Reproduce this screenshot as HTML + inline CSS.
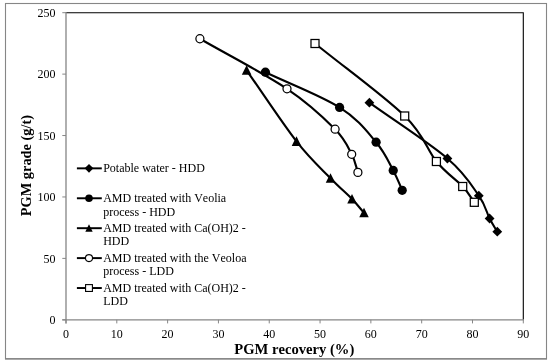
<!DOCTYPE html>
<html><head><meta charset="utf-8"><title>PGM grade vs recovery</title>
<style>html,body{margin:0;padding:0;background:#fff}body{width:550px;height:363px;overflow:hidden}text{font-kerning:none}</style></head>
<body>
<svg width="550" height="363" viewBox="0 0 550 363" style="display:block">
<rect x="0" y="0" width="550" height="363" fill="#fff"/>
<rect x="5.5" y="3.5" width="541" height="355.3" fill="none" stroke="#868686" stroke-width="1.1"/>
<path d="M5 358.9H547" fill="none" stroke="#808080" stroke-width="1.4"/>
<path d="M66.00 12.70H523.30V319.80" fill="none" stroke="#000" stroke-width="1.1"/>
<g stroke="#868686" stroke-width="1.3" fill="none">
<path d="M66.00 12.10V323.40 M62.30 319.80H523.90"/>
</g><g stroke="#868686" stroke-width="1" fill="none">
<path d="M66.00 319.80V323.40M116.81 319.80V323.40M167.62 319.80V323.40M218.43 319.80V323.40M269.24 319.80V323.40M320.06 319.80V323.40M370.87 319.80V323.40M421.68 319.80V323.40M472.49 319.80V323.40M523.30 319.80V323.40M62.30 319.80H66.00M62.30 258.38H66.00M62.30 196.96H66.00M62.30 135.54H66.00M62.30 74.12H66.00M62.30 12.70H66.00"/>
</g>
<g font-family="'Liberation Serif', serif" font-size="12px" fill="#000">
<text x="66.00" y="338.3" text-anchor="middle">0</text>
<text x="116.81" y="338.3" text-anchor="middle">10</text>
<text x="167.62" y="338.3" text-anchor="middle">20</text>
<text x="218.43" y="338.3" text-anchor="middle">30</text>
<text x="269.24" y="338.3" text-anchor="middle">40</text>
<text x="320.06" y="338.3" text-anchor="middle">50</text>
<text x="370.87" y="338.3" text-anchor="middle">60</text>
<text x="421.68" y="338.3" text-anchor="middle">70</text>
<text x="472.49" y="338.3" text-anchor="middle">80</text>
<text x="523.30" y="338.3" text-anchor="middle">90</text>
<text x="55.6" y="324.00" text-anchor="end">0</text>
<text x="55.6" y="262.58" text-anchor="end">50</text>
<text x="55.6" y="201.16" text-anchor="end">100</text>
<text x="55.6" y="139.74" text-anchor="end">150</text>
<text x="55.6" y="78.32" text-anchor="end">200</text>
<text x="55.6" y="16.90" text-anchor="end">250</text>
</g>
<g font-family="'Liberation Serif', serif" font-weight="bold" fill="#000">
<text x="294.3" y="353.5" font-size="14.6px" text-anchor="middle">PGM recovery (%)</text>
<text transform="translate(31.3 165.6) rotate(-90)" font-size="14.35px" text-anchor="middle">PGM grade (g/t)</text>
</g>
<g fill="none" stroke="#000" stroke-width="2.1" stroke-linecap="round" stroke-linejoin="round">
<path d="M369.40 102.70 C395.40 121.30 429.17 143.00 447.40 158.50 C465.63 174.00 471.77 185.70 478.80 195.70 C485.83 205.70 486.52 212.50 489.60 218.50 C492.68 224.50 494.73 227.30 497.30 231.70"/>
<path d="M265.40 72.20 C290.13 83.93 321.15 95.73 339.60 107.40 C358.05 119.07 367.17 131.70 376.10 142.20 C385.03 152.70 388.85 162.38 393.20 170.40 C397.55 178.42 399.20 183.67 402.20 190.30"/>
<path d="M246.60 70.30 C263.23 94.00 282.52 123.42 296.50 141.40 C310.48 159.38 321.25 168.60 330.50 178.20 C339.75 187.80 346.42 193.23 352.00 199.00 C357.58 204.77 360.00 208.20 364.00 212.80"/>
<path d="M199.90 38.75 C228.93 55.43 264.47 73.72 287.00 88.80 C309.53 103.88 324.32 118.28 335.10 129.20 C345.67 139.90 347.97 147.24 351.70 154.30 C355.50 161.50 355.83 166.37 357.90 172.40"/>
<path d="M315.00 43.50 C344.90 67.67 384.47 96.33 404.70 116.00 C424.58 135.33 426.90 149.95 436.40 161.50 C446.07 173.25 456.38 179.70 462.70 186.50 C469.02 193.30 470.43 197.03 474.30 202.30"/>
</g>
<path d="M369.40 97.80L374.30 102.70L369.40 107.61L364.50 102.70Z" fill="#000"/>
<path d="M447.40 153.59L452.30 158.50L447.40 163.41L442.50 158.50Z" fill="#000"/>
<path d="M478.80 190.79L483.70 195.70L478.80 200.60L473.90 195.70Z" fill="#000"/>
<path d="M489.60 213.59L494.50 218.50L489.60 223.41L484.70 218.50Z" fill="#000"/>
<path d="M497.30 226.79L502.20 231.70L497.30 236.60L492.40 231.70Z" fill="#000"/>
<circle cx="265.40" cy="72.20" r="4.63" fill="#000"/>
<circle cx="339.60" cy="107.40" r="4.63" fill="#000"/>
<circle cx="376.10" cy="142.20" r="4.63" fill="#000"/>
<circle cx="393.20" cy="170.40" r="4.63" fill="#000"/>
<circle cx="402.20" cy="190.30" r="4.63" fill="#000"/>
<path d="M246.60 65.26L251.37 74.80L241.83 74.80Z" fill="#000"/>
<path d="M296.50 136.36L301.27 145.90L291.73 145.90Z" fill="#000"/>
<path d="M330.50 173.16L335.27 182.70L325.73 182.70Z" fill="#000"/>
<path d="M352.00 193.96L356.77 203.50L347.23 203.50Z" fill="#000"/>
<path d="M364.00 207.76L368.77 217.30L359.23 217.30Z" fill="#000"/>
<circle cx="199.90" cy="38.75" r="4.01" fill="#fff" stroke="#000" stroke-width="1.25"/>
<circle cx="287.00" cy="88.80" r="4.01" fill="#fff" stroke="#000" stroke-width="1.25"/>
<circle cx="335.10" cy="129.20" r="4.01" fill="#fff" stroke="#000" stroke-width="1.25"/>
<circle cx="351.70" cy="154.30" r="4.01" fill="#fff" stroke="#000" stroke-width="1.25"/>
<circle cx="357.90" cy="172.40" r="4.01" fill="#fff" stroke="#000" stroke-width="1.25"/>
<rect x="310.99" y="39.49" width="8.02" height="8.02" fill="#fff" stroke="#000" stroke-width="1.25"/>
<rect x="400.69" y="111.99" width="8.02" height="8.02" fill="#fff" stroke="#000" stroke-width="1.25"/>
<rect x="432.39" y="157.49" width="8.02" height="8.02" fill="#fff" stroke="#000" stroke-width="1.25"/>
<rect x="458.69" y="182.49" width="8.02" height="8.02" fill="#fff" stroke="#000" stroke-width="1.25"/>
<rect x="470.29" y="198.29" width="8.02" height="8.02" fill="#fff" stroke="#000" stroke-width="1.25"/>
<g font-family="'Liberation Serif', serif" font-size="12px" fill="#000">
<path d="M76.9 168.35H101.8" stroke="#000" stroke-width="1.95" fill="none"/>
<path d="M89.00 163.99L93.36 168.35L89.00 172.71L84.64 168.35Z" fill="#000"/>
<text x="103.2" y="171.90">Potable water - HDD</text>
<path d="M76.9 198.27H101.8" stroke="#000" stroke-width="1.95" fill="none"/>
<circle cx="89.00" cy="198.27" r="3.81" fill="#000"/>
<text x="103.2" y="201.82">AMD treated with Veolia</text>
<text x="103.2" y="215.52">process - HDD</text>
<path d="M76.9 228.19H101.8" stroke="#000" stroke-width="1.95" fill="none"/>
<path d="M89.00 224.33L92.66 231.64L85.34 231.64Z" fill="#000"/>
<text x="103.2" y="231.74">AMD treated with Ca(OH)2 -</text>
<text x="103.2" y="245.44">HDD</text>
<path d="M76.9 258.11H101.8" stroke="#000" stroke-width="1.95" fill="none"/>
<circle cx="89.00" cy="258.11" r="3.52" fill="#fff" stroke="#000" stroke-width="1.10"/>
<text x="103.2" y="261.66">AMD treated with the Veoloa</text>
<text x="103.2" y="275.36">process - LDD</text>
<path d="M76.9 288.03H101.8" stroke="#000" stroke-width="1.95" fill="none"/>
<rect x="85.58" y="284.61" width="6.83" height="6.83" fill="#fff" stroke="#000" stroke-width="1.10"/>
<text x="103.2" y="291.58">AMD treated with Ca(OH)2 -</text>
<text x="103.2" y="305.28">LDD</text>
</g>
</svg>
</body></html>
